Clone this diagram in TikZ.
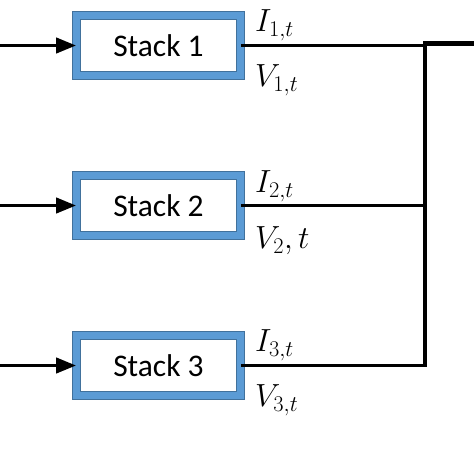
\RequirePackage{fix-cm}
\documentclass[tikz,border=0pt]{standalone}
\usepackage{amsmath}
\usepackage{fontspec}
\setmainfont{Carlito}
\usepackage{tikz}
\definecolor{ink}{HTML}{000000}
\definecolor{boxblue}{HTML}{5B9BD5}
\definecolor{boxedge}{HTML}{41719C}
\usetikzlibrary{arrows.meta, positioning, calc}
\tikzset{
  >={Triangle[length=20pt, width=15pt]},
  every picture/.style={line join=miter},
  stackbox/.style={
    draw=boxedge,
    line width=0.6pt,
    double=boxblue,
    double distance=7.6pt,
    fill=white,
    minimum width=164pt,
    minimum height=60pt,
    inner sep=0pt,
    font=\fontsize{31.5}{36}\selectfont
  },
  wire/.style={line width=3.9pt, draw=ink},
  arrow/.style={->, wire},
  annot/.style={font=\fontsize{32}{36}\selectfont, text=ink, inner sep=0pt, anchor=west}
}
\begin{document}
\begin{tikzpicture}[x=1pt, y=-1pt]
  \useasboundingbox (0,0) rectangle (474,474);

  \node[stackbox] (s1) at (158.5,45.5) {Stack 1};
  \node[stackbox] (s2) at (158.5,205.5) {Stack 2};
  \node[stackbox] (s3) at (158.5,365.5) {Stack 3};

  % inputs
  \coordinate (in1) at (0,45.5);
  \coordinate (in2) at (0,205.5);
  \coordinate (in3) at (0,365.5);
  \draw[arrow] (in1) -- (s1.west);
  \draw[arrow] (in2) -- (s2.west);
  \draw[arrow] (in3) -- (s3.west);

  % bus
  \coordinate (bustop) at (425,45.5);
  \coordinate (busmid) at (425,205.5);
  \coordinate (busbot) at (425,365.5);
  \coordinate (out) at (474,43.5);
  \draw[wire] (s1.east) -- (bustop);
  \draw[wire] (s2.east) -- (busmid);
  \draw[wire] (s3.east) -- (busbot) -- (bustop |- 0,43);
  \draw[line width=5.6pt, draw=ink] (423,43.5) -- (out);

  % labels
  \node[annot] (i1) at (255,25) {$I_{1,t}$};
  \node[annot] (v1) at (255,80) {$V_{1,t}$};
  \node[annot] (i2) at (255,186) {$I_{2,t}$};
  \node[annot] (v2) at (255,241) {$V_2, t$};
  \node[annot] (i3) at (255,345) {$I_{3,t}$};
  \node[annot] (v3) at (255,400) {$V_{3,t}$};
\end{tikzpicture}
\end{document}
